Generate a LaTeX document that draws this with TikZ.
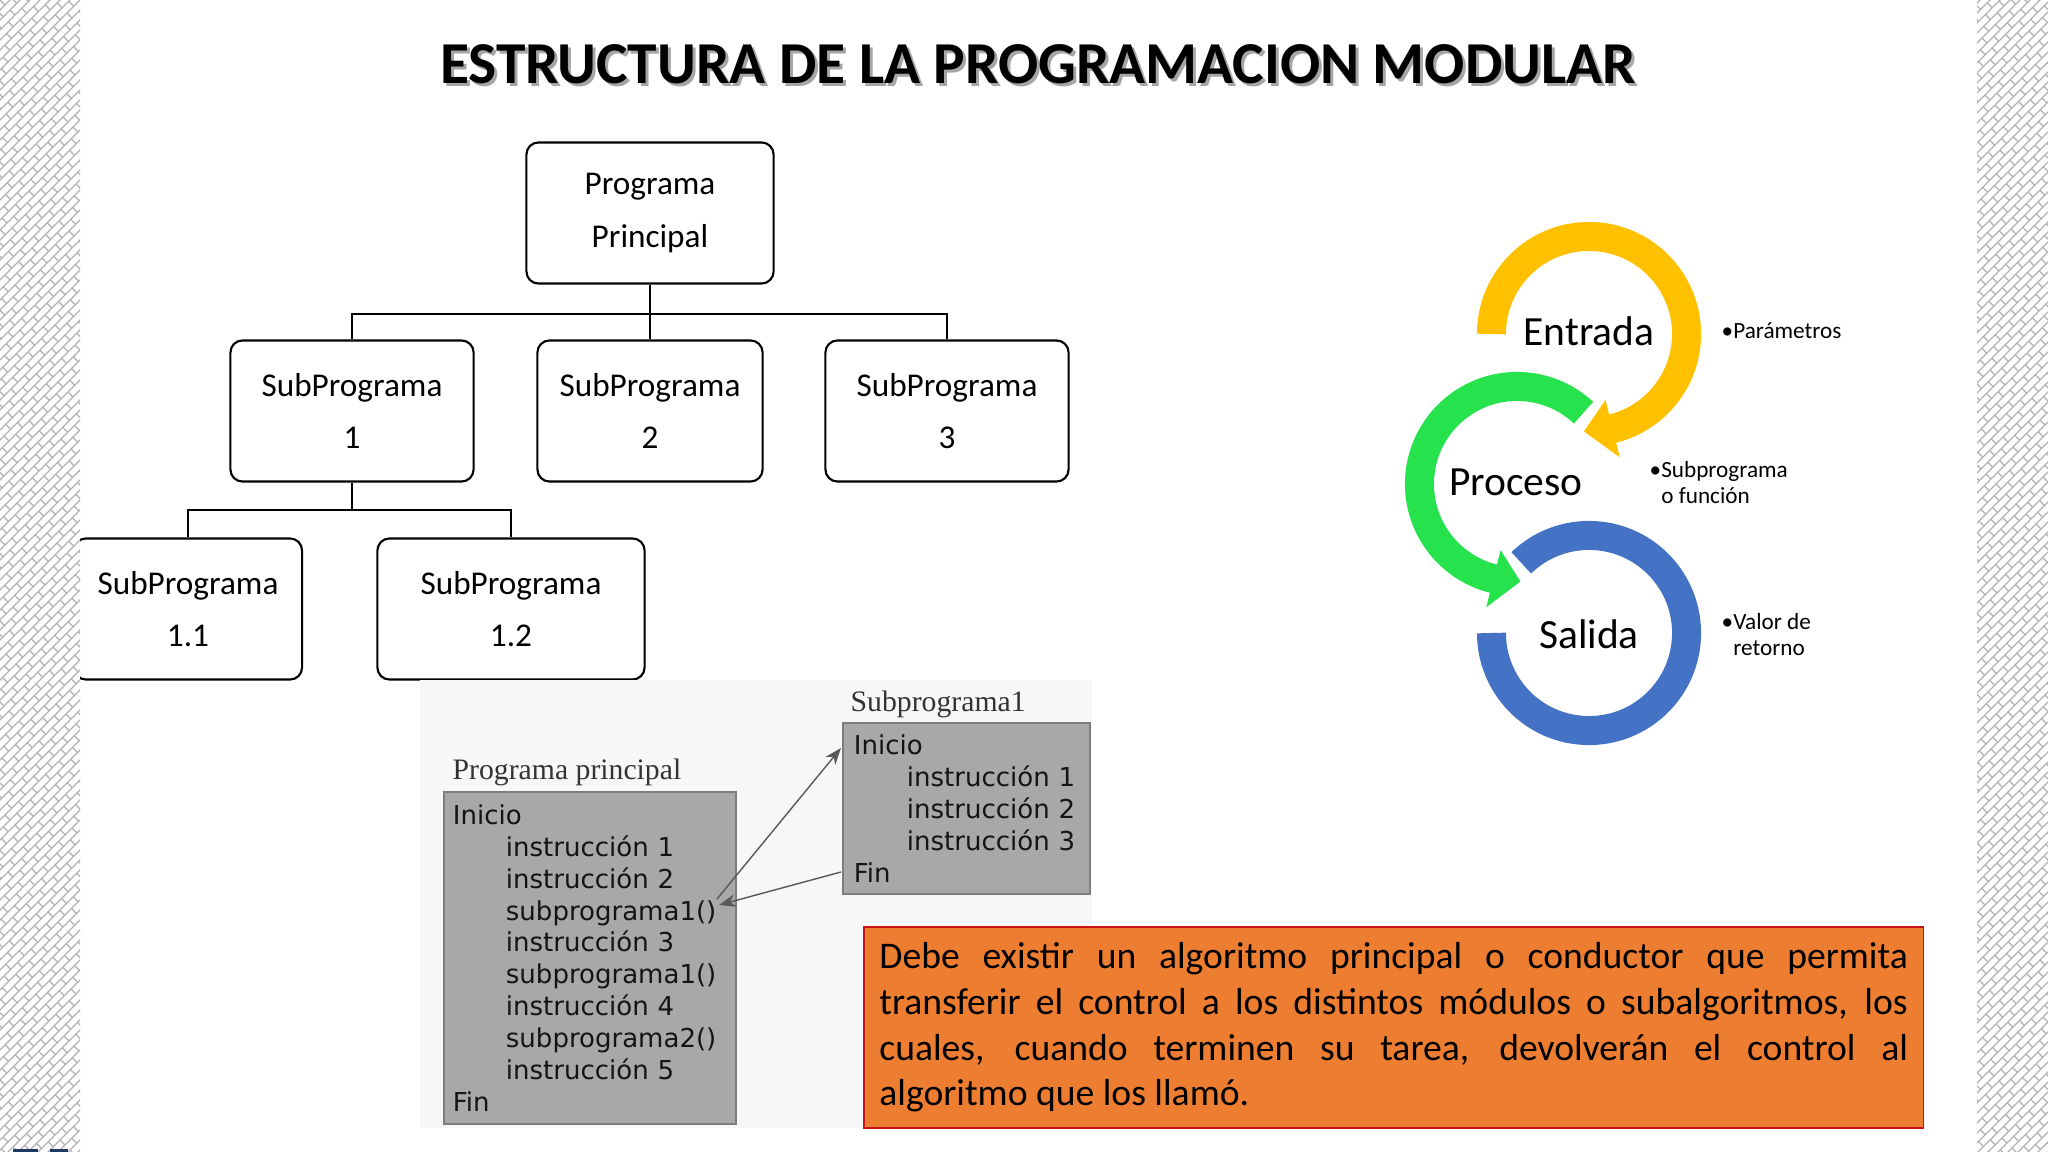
\documentclass[tikz,border=0pt]{standalone}
\usepackage{fontspec}
\setmainfont{Carlito}
\newfontfamily\codefont{DejaVu Sans}
\newfontfamily\bookfont{Liberation Serif}
\usepackage{tikz}
\usetikzlibrary{positioning,arrows.meta}

\definecolor{ringyellow}{RGB}{255,192,0}
\definecolor{ringgreen}{RGB}{38,226,76}
\definecolor{ringblue}{RGB}{68,114,196}
\definecolor{codegray}{RGB}{168,168,168}
\definecolor{codeedge}{RGB}{125,125,125}
\definecolor{noteorange}{RGB}{237,125,49}
\definecolor{notered}{RGB}{200,20,20}
\definecolor{brickgray}{RGB}{178,178,178}
\definecolor{cornerblue}{RGB}{31,56,100}

\newcommand{\codeindent}{\hspace*{0.53cm}}

\begin{document}
\begin{tikzpicture}[x=0.01cm, y=-0.01cm, >=Stealth,
  treebox/.style={draw, line width=0.6pt, rounded corners=0.12cm, fill=white,
    minimum height=1.41cm, inner sep=0pt, align=center,
    font=\fontsize{9.45pt}{14.8pt}\selectfont},
  treeline/.style={line width=0.6pt},
  ring/.style={line width=0.29cm},
  ringword/.style={anchor=base, inner sep=0pt, font=\fontsize{11.8pt}{14pt}\selectfont},
  ringnote/.style={inner sep=0pt, align=left, font=\fontsize{6.6pt}{7.4pt}\selectfont},
  codebox/.style={draw=codeedge, fill=codegray, line width=0.5pt, anchor=north west,
    inner ysep=0pt, align=left, text=black!92,
    font=\codefont\fontsize{7.4pt}{9.07pt}\selectfont},
  codelabel/.style={anchor=base west, inner sep=0pt, text=black!80,
    font=\bookfont\fontsize{8.45pt}{10pt}\selectfont},
  callarrow/.style={->, draw=black!65, line width=0.4pt},
  notebox/.style={draw=notered, fill=noteorange, line width=0.5pt, anchor=north west,
    text width=10.28cm, inner xsep=0.155cm, inner ysep=0pt, minimum height=2.01cm,
    align=justify, font=\fontsize{10.7pt}{13pt}\selectfont},
  brick/.style={draw=brickgray, line width=0.35pt},
  titlefont/.style={anchor=base, inner sep=0pt, font=\bfseries\fontsize{16.9pt}{20pt}\selectfont}]

\useasboundingbox (0,0) rectangle (2048,1152);

% Title with shadow
\node[titlefont, text=black!35] (titleshadow) at (1041,87) {ESTRUCTURA DE LA PROGRAMACION MODULAR};
\node[titlefont] (title) at (1038,84) {ESTRUCTURA DE LA PROGRAMACION MODULAR};

% Module tree
\node[treebox, minimum width=2.47cm] (pp) at (650,213) {Programa\\Principal};
\node[treebox, minimum width=2.43cm] (sp1) at (352,411) {SubPrograma\\1};
\node[treebox, minimum width=2.25cm] (sp2) at (650,411) {SubPrograma\\2};
\node[treebox, minimum width=2.43cm] (sp3) at (947,411) {SubPrograma\\3};
\node[treebox, minimum width=2.28cm] (sp11) at (188,609) {SubPrograma\\1.1};
\node[treebox, minimum width=2.67cm] (sp12) at (511,609) {SubPrograma\\1.2};

\draw[treeline] (pp.south) -- ++(0,29) coordinate (bus1);
\draw[treeline] (sp1.north) |- (bus1) -| (sp3.north);
\draw[treeline] (bus1) -- (sp2.north);
\draw[treeline] (sp1.south) -- ++(0,27) coordinate (bus2);
\draw[treeline] (sp11.north) |- (bus2) -| (sp12.north);

% Code example
\fill[black!3] (420,680) rectangle (1092,1128);
\node[codelabel] (pplabel) at (452,779) {Programa principal};
\node[codebox, text width=2.74cm, inner xsep=0.09cm, minimum height=3.32cm] (ppbox) at (443,791) {%
Inicio\\
\codeindent instrucción 1\\
\codeindent instrucción 2\\
\codeindent subprograma1()\\
\codeindent instrucción 3\\
\codeindent subprograma1()\\
\codeindent instrucción 4\\
\codeindent subprograma2()\\
\codeindent instrucción 5\\
Fin};
\node[codelabel] (sublabel) at (850,711) {Subprograma1};
\node[codebox, text width=2.25cm, inner xsep=0.11cm, minimum height=1.71cm] (subbox) at (842,722) {%
Inicio\\
\codeindent instrucción 1\\
\codeindent instrucción 2\\
\codeindent instrucción 3\\
Fin};

\coordinate (callpt) at (717,899);
\coordinate (subin) at (841,748);
\coordinate (subend) at (841,872);
\coordinate (retpt) at (719,905);
\draw[callarrow] (callpt) -- (subin);
\draw[callarrow] (subend) -- (retpt);

% Note
\node[notebox] (note) at (863,926) {Debe existir un algoritmo principal o conductor que permita\linebreak
transferir el control a los distintos módulos o subalgoritmos, los\linebreak
cuales, cuando terminen su tarea, devolverán el control al\linebreak
algoritmo que los llamó.};

% Circular arrows
\begin{scope}[shift={(1517,484)}]
\draw[ring, ringgreen] (47:0.975cm) arc[start angle=47, end angle=258, radius=0.975cm];
\fill[ringgreen] (256:0.68cm) -- (256:1.27cm) -- (272:0.975cm) -- cycle;
\end{scope}
\begin{scope}[shift={(1589,334)}]
\draw[ring, ringyellow] (180:0.975cm) arc[start angle=180, end angle=-78, radius=0.975cm];
\fill[ringyellow] (-76:0.68cm) -- (-76:1.27cm) -- (-93:0.975cm) -- cycle;
\end{scope}
\begin{scope}[shift={(1589,633)}]
\draw[ring, ringblue] (134:0.975cm) arc[start angle=134, end angle=-180, radius=0.975cm];
\end{scope}

\node[ringword] (entrada) at (1589,346) {Entrada};
\node[ringword] (proceso) at (1516,496) {Proceso};
\node[ringword] (salida) at (1589,648) {Salida};

\node[ringnote, anchor=base west] (param) at (1721,339) {\textbullet Parámetros};
\node[ringnote, anchor=west] (func) at (1649,483) {\textbullet Subprograma\\\phantom{\textbullet}o función};
\node[ringnote, anchor=west] (ret) at (1721,635) {\textbullet Valor de\\\phantom{\textbullet}retorno};

% Brick strips
\begin{scope}
\clip (0,0) rectangle (80,1152);
\fill[white] (0,0) rectangle (80,1152);
\foreach \k in {0,...,125}
  \draw[brick] (-20,{10*\k+20}) -- (100,{10*\k-100});
\foreach \j in {-88,-86,...,6}
  \draw[brick, dash pattern=on 0.0707cm off 0.0707cm] ({6.75*\j},{-6.75*\j}) -- ({6.75*\j+630},{630-6.75*\j});
\foreach \j in {-87,-85,...,7}
  \draw[brick, dash pattern=on 0.0707cm off 0.0707cm, dash phase=0.0707cm] ({6.75*\j},{-6.75*\j}) -- ({6.75*\j+630},{630-6.75*\j});
\end{scope}
\begin{scope}
\clip (1977,0) rectangle (2048,1152);
\fill[white] (1977,0) rectangle (2048,1152);
\foreach \k in {196,...,322}
  \draw[brick] (1960,{10*\k-1960}) -- (2070,{10*\k-2070});
\foreach \j in {60,62,...,152}
  \draw[brick, dash pattern=on 0.0707cm off 0.0707cm] ({6.75*\j+980},{980-6.75*\j}) -- ({6.75*\j+1610},{1610-6.75*\j});
\foreach \j in {61,63,...,153}
  \draw[brick, dash pattern=on 0.0707cm off 0.0707cm, dash phase=0.0707cm] ({6.75*\j+980},{980-6.75*\j}) -- ({6.75*\j+1610},{1610-6.75*\j});
\end{scope}

% corner marks
\fill[cornerblue] (13,1149) rectangle (38,1152);
\fill[cornerblue] (50,1149) rectangle (68,1152);

\end{tikzpicture}
\end{document}
